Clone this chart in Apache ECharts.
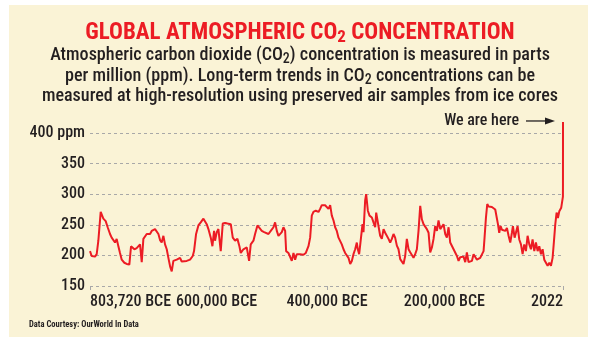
<!DOCTYPE html>
<html>
<head>
<meta charset="utf-8">
<script src="https://cdn.jsdelivr.net/npm/echarts@6/dist/echarts.min.js"></script>
<style>
html,body{margin:0;padding:0;background:#ffffff;}
#chart{width:600px;height:342px;}
</style>
</head>
<body>
<div id="chart"></div>
<script>
// ---- Data (year: negative = BCE; CO2 in ppm) ----
const years = [
-803720,-800900,-795200,-792300,-789500,-785500,-781000,-777000,-773600,-769600,
-766800,-763900,-761100,-758300,-755400,-752600,-749700,-745200,-741200,-738400,
-736700,-733800,-731000,-728100,-724200,-721300,-718500,-715600,-712800,-710000,
-707100,-704300,-701400,-698600,-692900,-690100,-687200,-684400,-681600,-678700,
-675900,-673000,-670200,-667300,-664500,-661700,-658800,-656000,-653100,-650300,
-647500,
-644600,-639000,-633300,-628700,-626500,-623000,-619100,-615100,-610500,-607700,
-604900,-602000,-598000,-595200,-592400,-590700,-587800,-585000,-581000,-577600,
-573600,-569600,-566200,-563900,-560500,-556600,-552600,-549200,-546900,-542400,
-539500,-536700,-532700,-529900,-525300,-522500,-518500,-515100,-511100,-507100,
-503700,-499700,-495800,-491200,
-488400,-485500,-482700,-479900,-477000,-474200,-471300,-469600,-465700,-462800,
-460000,-457100,-454300,-451500,-448600,-445800,-442900,-440100,-436100,-431600,
-428700,-425900,-423100,-419100,-414500,-411700,-408900,-406000,-403200,-400300,
-397500,-394600,-391800,-388900,-386100,-383300,-380400,-377600,-374800,-371900,
-369100,-366200,-363400,-360500,-357700,-354900,-352000,-349200,-347500,-345200,
-341800,-339500,-337800,-335000,-333300,-330400,-327600,-323600,-320800,-317900,
-316200,-312300,-309400,-306600,-303700,-300900,-298100,-295200,-292400,-289500,
-286700,-283900,-281000,-278200,-275300,-272500,-269700,-266800,-264000,-261100,
-258300,-255500,-252600,-249800,-246900,-244100,-241200,-238400,-235600,-232700,
-229900,-227000,-224200,-221300,-218500,-215700,-212800,-210000,-207100,-204300,
-201500,-198600,-195800,-192900,-190100,-187300,-184400,-181600,-178700,-175900,
-173100,-170200,-167400,-164500,-161700,-158900,-156000,
-153200,-150300,-147500,-144600,-141800,-139000,-136100,-133300,-131600,-129300,
-127000,-124700,-121900,-119100,-116200,-113400,-110500,-108800,-106600,-104300,
-102000,-99200,-96300,-93500,-90700,-87800,-85000,-83300,-80400,-78200,
-75300,-72500,-69600,-66800,-64000,-61100,-58300,-55400,-52600,-49800,
-46900,-44100,-41200,-38400,-35500,-32700,-29900,-27000,-24200,-21300,
-18500,-15700,-13400,-11100,-8900,-6600,-4300,-2000,-1000,1750,
1900,1960,2000,2022
];
const co2 = [
207,199,198,202,224,271,260,256,246,235,
229,232,221,227,215,204,193,188,186,185,
185,215,213,210,212,214,218,189,227,229,
235,238,235,240,243,240,235,225,221,232,
218,210,196,182,174,191,188,193,190,196,
190,
193,191,193,199,207,235,249,254,260,260,
251,243,229,215,240,224,238,243,207,252,
253,252,255,251,229,224,227,215,204,210,
207,213,191,218,224,235,249,246,240,238,
240,235,240,246,
254,240,232,229,238,246,240,207,204,207,
191,204,193,202,204,202,202,201,204,215,
229,265,271,273,271,276,282,285,282,285,
276,282,265,257,246,240,229,227,218,210,
204,202,196,186,191,202,210,221,210,202,
202,251,238,290,300,273,265,262,254,246,
270,248,232,227,243,237,240,227,221,227,
235,229,216,210,194,191,186,199,227,210,
205,202,196,202,210,240,281,259,251,254,
243,237,205,213,227,248,240,257,243,240,
251,235,229,246,221,224,210,208,199,191,
197,194,198,189,205,189,191,
191,202,199,193,196,196,199,207,229,261,
284,280,278,279,278,275,272,251,237,248,
242,245,240,245,232,221,237,248,229,237,
248,226,218,202,218,207,232,218,210,226,
207,221,207,215,202,210,193,191,183,188,
183,196,223,251,270,261,272,270,278,280,
296,317,370,418
];
const xTickValues = [-803720, -600000, -400000, -200000, 2022];
const yMin = 150, yMax = 400, yStep = 50;

const titleText = 'GLOBAL ATMOSPHERIC CO';
const titleTail = ' CONCENTRATION';
const subLines = [
  ['Atmospheric carbon dioxide (CO', '2', ') concentration is measured in parts'],
  ['per million (ppm). Long-term trends in CO', '2', ' concentrations can be'],
  ['measured at high-resolution using preserved air samples from ice cores']
];
const annotation = 'We are here';
const sourceText = 'Data Courtesy: OurWorld In Data';

// ---- Chart ----
const FONT = "'Noto Sans Condensed','Noto Sans SemiCondensed','Roboto Condensed','Liberation Sans Narrow',sans-serif";
const TFONT = "'Noto Sans SemiCondensed','Noto Sans Condensed','Roboto Condensed',sans-serif";
const W = 500;
const RED = '#ec1c24';
const INK = '#231f20';
const chart = echarts.init(document.getElementById('chart'), null, {renderer: 'canvas'});
const seriesData = years.map((y, i) => [y, co2[i]]);

function subRich(size, lh, pad) {
  return {
    n: {fontSize: size, fontWeight: W, fontFamily: FONT, color: INK, lineHeight: lh},
    s: {fontSize: Math.round(size * 0.75), fontWeight: W, fontFamily: FONT, color: INK, lineHeight: lh, padding: [pad, 0, 0, 0]}
  };
}
function lineText(parts) {
  if (parts.length === 1) return '{n|' + parts[0] + '}';
  return '{n|' + parts[0] + '}{s|' + parts[1] + '}{n|' + parts[2] + '}';
}
const xLabelStyle = {fontSize: 16, fontWeight: W, fontFamily: FONT, color: INK};

const option = {
  animation: false,
  backgroundColor: '#ffffff',
  graphic: [{
    type: 'rect', z: -10, silent: true,
    shape: {x: 9, y: 5, width: 579, height: 332},
    style: {fill: '#faf3d6'}
  }],
  title: [
    {
      text: '{a|' + titleText + '}{s|2}{a|' + titleTail + '}',
      left: 'center', top: 19, padding: 0,
      textStyle: {rich: {
        a: {fontSize: 23, fontWeight: 'bold', fontFamily: TFONT, color: RED, lineHeight: 28},
        s: {fontSize: 17, fontWeight: 'bold', fontFamily: TFONT, color: RED, lineHeight: 28, padding: [10, 0, 0, 0]}
      }}
    },
    {text: lineText(subLines[0]), left: 'center', top: 44, padding: 0, textStyle: {rich: subRich(18.1, 22, 8)}},
    {text: lineText(subLines[1]), left: 'center', top: 65, padding: 0, textStyle: {rich: subRich(18.1, 22, 8)}},
    {text: lineText(subLines[2]), left: 'center', top: 85, padding: 0, textStyle: {rich: subRich(18.1, 22, 8)}},
    {
      text: sourceText, left: 29, top: 320, padding: 0,
      textStyle: {fontSize: 8.5, fontWeight: 'bold', fontFamily: FONT, color: INK}
    }
  ],
  grid: {left: 90, right: 37, top: 133, bottom: 56, containLabel: false},
  xAxis: {
    type: 'value',
    min: years[0], max: years[years.length - 1],
    axisLine: {show: false},
    splitLine: {show: false},
    axisTick: {show: true, customValues: xTickValues, length: 4, lineStyle: {color: '#a8a8a8', width: 1}},
    axisLabel: Object.assign({
      customValues: xTickValues,
      showMinLabel: true, showMaxLabel: true,
      margin: 8,
      alignMinLabel: 'left', alignMaxLabel: 'right',
      rich: {p: Object.assign({padding: [0, 0, 0, 14]}, xLabelStyle)},
      formatter: v => {
        const s = v > 0 ? String(v) : Math.abs(v).toLocaleString('en-US') + ' BCE';
        return v === xTickValues[1] ? '{p|' + s + '}' : s;
      }
    }, xLabelStyle)
  },
  yAxis: {
    type: 'value', min: yMin, max: yMax, interval: yStep,
    axisLine: {show: false}, axisTick: {show: false},
    splitLine: {show: true, lineStyle: {color: '#a8a8a8', type: [3, 3], width: 1}},
    axisLabel: {
      margin: 5, fontSize: 16, fontWeight: W, fontFamily: FONT, color: INK,
      formatter: v => v === yMax ? v + ' ppm' : String(v)
    }
  },
  series: [{
    type: 'line', data: seriesData, showSymbol: false, clip: false,
    lineStyle: {color: RED, width: 2}, z: 5
  }]
};
chart.setOption(option);

// Annotation anchored to the latest data point
const last = chart.convertToPixel({gridIndex: 0}, seriesData[seriesData.length - 1]);
const ay = last[1] - 1;
const ax1 = last[0] - 37, ax2 = last[0] - 8;
chart.setOption({
  graphic: [
    {type: 'rect', z: -10, silent: true, shape: {x: 9, y: 5, width: 579, height: 332}, style: {fill: '#faf3d6'}},
    {type: 'text', silent: true, x: ax1 - 7, y: ay,
      style: {text: annotation, fontSize: 16, fontWeight: W, fontFamily: FONT, fill: INK, align: 'right', verticalAlign: 'middle'}},
    {type: 'line', silent: true, shape: {x1: ax1, y1: ay, x2: ax2 - 6, y2: ay}, style: {stroke: INK, lineWidth: 1.3}},
    {type: 'polygon', silent: true, shape: {points: [[ax2, ay], [ax2 - 10, ay - 3.5], [ax2 - 10, ay + 3.5]]}, style: {fill: INK}}
  ]
});
</script>
</body>
</html>
